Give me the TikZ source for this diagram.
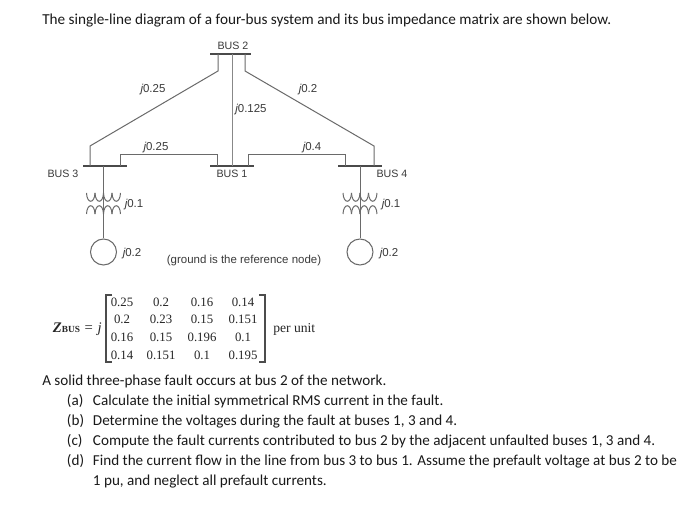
\documentclass[tikz,border=0pt]{standalone}
\usepackage{fontspec}
\setmainfont{Carlito}
\newfontfamily\diagfont{Liberation Sans}
\newfontfamily\matfont{Liberation Serif}
\definecolor{wire}{HTML}{6A6A6A}
\definecolor{lbl}{HTML}{3A3A3A}
\begin{document}
\begin{tikzpicture}[x=0.75pt,y=-0.75pt,
  wireline/.style={draw=wire,line width=0.75pt},
  busbar/.style={draw=wire!70!black,line width=1pt},
  difflbl/.style={font=\diagfont\fontsize{8}{9}\selectfont,text=lbl,inner sep=0pt},
  zlbl/.style={font=\diagfont\fontsize{8.6}{10}\selectfont,text=lbl,inner sep=0pt},
  matlbl/.style={font=\matfont\fontsize{9.6}{11}\selectfont,text=black!85,inner sep=0pt},
  bodytxt/.style={font=\fontsize{11.42}{13}\selectfont,anchor=base west,inner sep=0pt,text=black!90},
  lowtxt/.style={bodytxt,font=\fontsize{11.36}{13}\selectfont}]
\useasboundingbox (0,0) rectangle (700,516);
\fill[white] (0,0) rectangle (700,516);

\node[bodytxt] (title) at (42,25) {The single-line diagram of a four-bus system and its bus impedance matrix are shown below.};

% buses
\coordinate (b2l) at (210,54); \coordinate (b2r) at (251,54);
\coordinate (b3l) at (83,166); \coordinate (b3r) at (127,166);
\coordinate (b1l) at (210,166); \coordinate (b1r) at (254,166);
\coordinate (b4l) at (338,166); \coordinate (b4r) at (382,166);
\draw[busbar] (b2l) -- (b2r);
\draw[busbar] (b3l) -- (b3r);
\draw[busbar] (b1l) -- (b1r);
\draw[busbar] (b4l) -- (b4r);

% lines
\coordinate (a1) at (218,54); \coordinate (a2) at (218,71);
\coordinate (a3) at (90,146); \coordinate (a4) at (90,166);
\draw[wireline] (a1) -- (a2) -- (a3) -- (a4);
\coordinate (c1) at (120,166); \coordinate (c2) at (120,155);
\coordinate (c3) at (217,155); \coordinate (c4) at (217,166);
\draw[wireline] (c1) -- (c2) -- (c3) -- (c4);
\coordinate (d1) at (232,54); \coordinate (d2) at (232,166);
\draw[wireline,draw=wire!80] (d1) -- (d2);
\coordinate (e1) at (248,166); \coordinate (e2) at (248,155);
\coordinate (e3) at (345,155); \coordinate (e4) at (345,166);
\draw[wireline] (e1) -- (e2) -- (e3) -- (e4);
\coordinate (f1) at (245,54); \coordinate (f2) at (245,71);
\coordinate (f3) at (374,146); \coordinate (f4) at (374,166);
\draw[wireline] (f1) -- (f2) -- (f3) -- (f4);

% generators and transformers
\foreach \nm/\cx in {three/103.5,four/360}{
  \node[circle,draw=wire,line width=0.8pt,minimum size=19.5pt,inner sep=0pt] (g\nm) at (\cx,252) {};
  \coordinate (t\nm) at (\cx,166);
  \draw[wireline] (t\nm) -- (g\nm);
  \begin{scope}[shift={(\cx,0)}]
    \foreach \k in {-17,-8.5,0,8.5}{
      \draw[wireline,fill=none] (\k,193) .. controls (\k+0.5,204) and (\k+8,204) .. (\k+8.5,193);
      \draw[wireline,fill=none] (\k,214) .. controls (\k+0.5,203) and (\k+8,203) .. (\k+8.5,214);
    }
  \end{scope}
}

% diagram labels
\node[difflbl] (lb2) at (233,45.5) {BUS 2};
\node[difflbl] (lb1) at (232,174) {BUS 1};
\node[difflbl] (lb3) at (63,174) {BUS 3};
\node[difflbl] (lb4) at (392,174) {BUS 4};
\node[zlbl] (z1) at (153,89.5) {\itshape j\upshape 0.25};
\node[zlbl] (z2) at (156,147.5) {\itshape j\upshape 0.25};
\node[zlbl] (z3) at (308,89.5) {\itshape j\upshape 0.2};
\node[zlbl] (z4) at (251,109.5) {\itshape j\upshape 0.125};
\node[zlbl] (z5) at (312,147.5) {\itshape j\upshape 0.4};
\node[zlbl] (z6) at (134,204.5) {\itshape j\upshape 0.1};
\node[zlbl] (z7) at (132,253.5) {\itshape j\upshape 0.2};
\node[zlbl] (z8) at (391,204.5) {\itshape j\upshape 0.1};
\node[zlbl] (z9) at (389,253.5) {\itshape j\upshape 0.2};
\node[zlbl] (gnd) at (244,261) {(ground is the reference node)};

% matrix
\foreach \r/\y/\p/\q/\s/\t in {1/302/0.25/0.2/0.16/0.14,2/319/0.2/0.23/0.15/0.151,3/337/0.16/0.15/0.196/0.1,4/355/0.14/0.151/0.1/0.195}{
  \node[matlbl] (m\r a) at (122,\y) {\p};
  \node[matlbl] (m\r b) at (161,\y) {\q};
  \node[matlbl] (m\r c) at (202,\y) {\s};
  \node[matlbl] (m\r d) at (243,\y) {\t};
}
\draw[draw=black!70,line width=0.8pt] (112,295) -- (106,295) -- (106,362) -- (112,362);
\draw[draw=black!70,line width=0.8pt] (259,295) -- (265,295) -- (265,362) -- (259,362);
\node[matlbl,anchor=east,font=\matfont\fontsize{11}{12}\selectfont] (zbus) at (102,329) {\textbf{\textit{Z}}{\fontsize{7}{8}\selectfont\textbf{BUS}}\hspace{3.5pt}=\hspace{3.5pt}\textit{j}};
\node[matlbl,anchor=west,font=\matfont\fontsize{10.2}{12}\selectfont] (pu) at (273,329) {per unit};

% problem text
\node[lowtxt] (t0) at (42,386) {A solid three-phase fault occurs at bus 2 of the network.};
\node[lowtxt] (ta) at (66.7,406) {(a)};
\node[lowtxt] (tat) at (92.7,406) {Calculate the initial symmetrical RMS current in the fault.};
\node[lowtxt] (tb) at (66.7,426) {(b)};
\node[lowtxt] (tbt) at (92.7,426) {Determine the voltages during the fault at buses 1, 3 and 4.};
\node[lowtxt] (tc) at (66.7,446) {(c)};
\node[lowtxt] (tct) at (92.7,446) {Compute the fault currents contributed to bus 2 by the adjacent unfaulted buses 1, 3 and 4.};
\node[lowtxt] (td) at (66.7,466) {(d)};
\node[lowtxt] (tdt) at (92.7,466) {Find the current flow in the line from bus 3 to bus 1. Assume the prefault voltage at bus 2 to be};
\node[lowtxt] (te) at (92.7,486) {1 pu, and neglect all prefault currents.};
\end{tikzpicture}
\end{document}
